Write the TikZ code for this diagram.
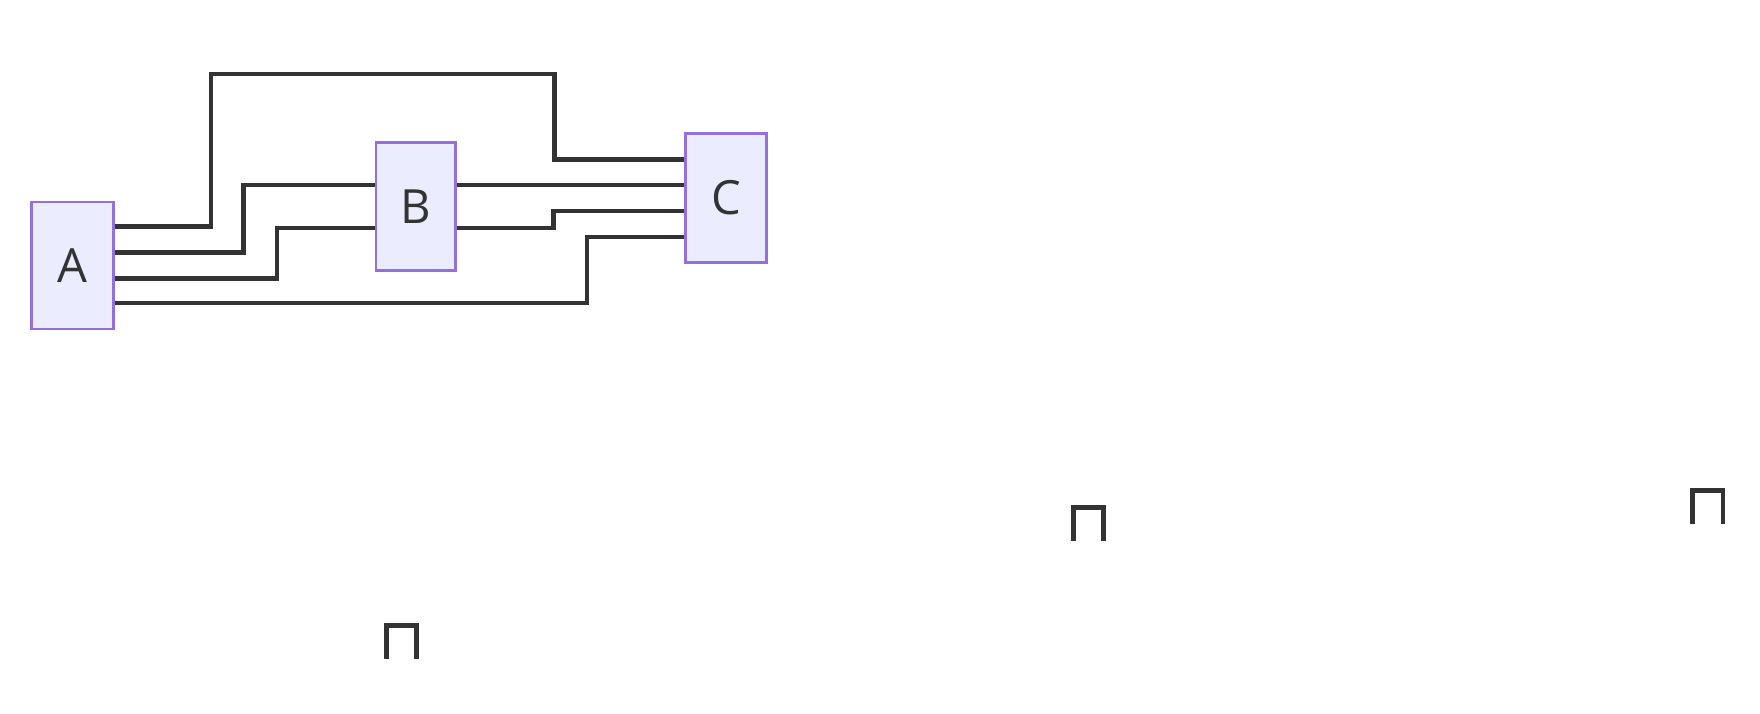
\documentclass[tikz,border=0pt]{standalone}
\usepackage{fontspec}
\setmainfont{Open Sans}
\begin{document}
\begin{tikzpicture}[x=0.5pt,y=-0.5pt,
  box/.style={draw=purple!50!blue!60!white, draw={rgb,255:red,147;green,112;blue,219}, fill={rgb,255:red,236;green,236;blue,255}, line width=1.2pt, inner sep=0pt, font=\fontsize{21}{21}\selectfont, text={rgb,255:red,51;green,51;blue,51}},
  wire/.style={draw={rgb,255:red,51;green,51;blue,51}, line width=2pt},
  glyph/.style={draw={rgb,255:red,51;green,51;blue,51}, line width=2.2pt}]
\useasboundingbox[fill=white] (0,0) rectangle (1568,636);
\node[box, minimum width=36.5pt, minimum height=56.5pt] (A) at (64.5,236.5) {A};
\node[box, minimum width=35.5pt, minimum height=57pt] (B) at (370.5,184) {B};
\node[box, minimum width=36pt, minimum height=57.5pt] (C) at (647,176.5) {C};
\draw[wire] (A.east |- 0,202) -- (188,202) -- (188,66) -- (494,66) -- (494,142) -- (C.west |- 0,142);
\draw[wire] (A.east |- 0,225) -- (217,225) -- (217,165) -- (B.west |- 0,165);
\draw[wire] (A.east |- 0,248) -- (247,248) -- (247,203) -- (B.west |- 0,203);
\draw[wire] (A.east |- 0,270) -- (523,270) -- (523,211) -- (C.west |- 0,211);
\draw[wire] (B.east |- 0,165) -- (C.west |- 0,165);
\draw[wire] (B.east |- 0,203) -- (493,203) -- (493,188) -- (C.west |- 0,188);
\draw[glyph] (956,482) -- (956,452) -- (983,452) -- (983,482);
\draw[glyph] (1508,467) -- (1508,437) -- (1535,437) -- (1535,467);
\draw[glyph] (344,587) -- (344,557) -- (371,557) -- (371,587);
\end{tikzpicture}
\end{document}
